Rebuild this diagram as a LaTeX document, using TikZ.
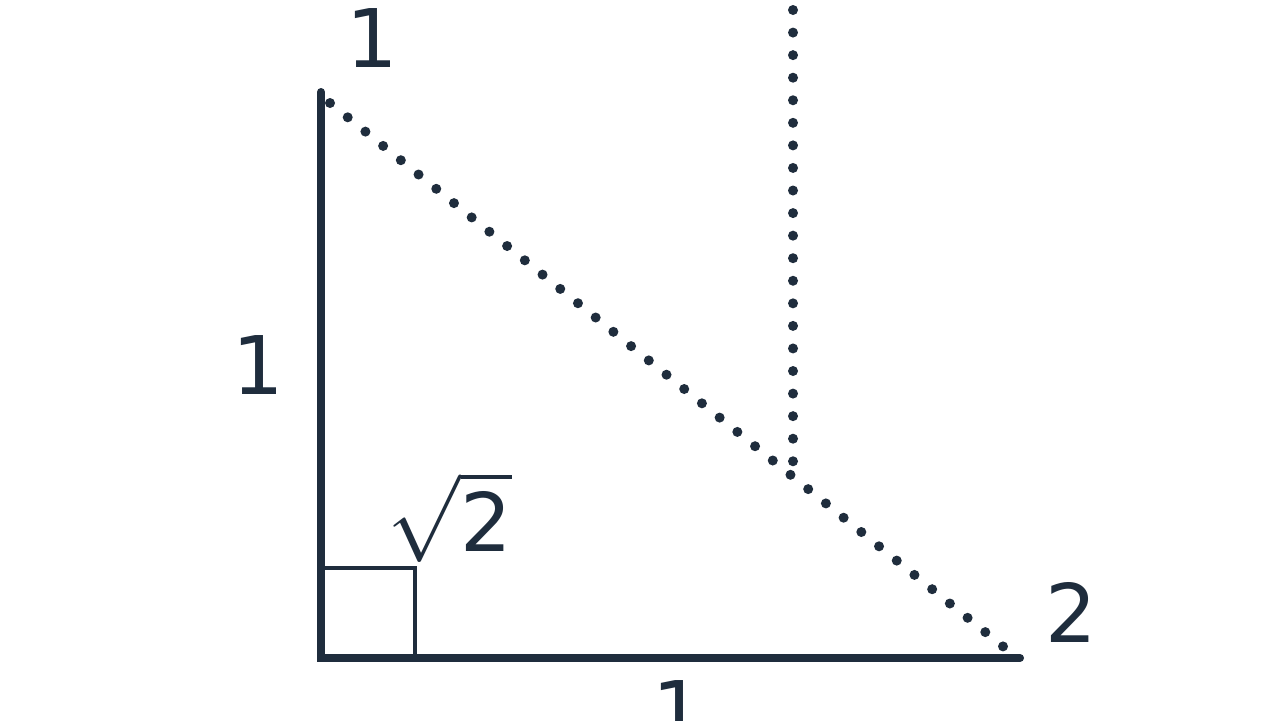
\documentclass[tikz,border=0pt]{standalone}
\usepackage{fontspec}
\setmainfont{DejaVu Sans}
\definecolor{ink}{HTML}{1F2D3D}
\begin{document}
\begin{tikzpicture}[x=0.01cm,y=-0.01cm,
  solidline/.style={draw=ink,line width=0.08cm,line cap=round},
  dotline/.style={draw=ink,line width=0.1cm,line cap=round,dash pattern=on 0pt off #1},
  lbl/.style={text=ink,font=\fontsize{23}{28}\selectfont,inner sep=0pt}]
\useasboundingbox[fill=white] (0,0) rectangle (1280,720);
\coordinate (T) at (321,92);
\coordinate (O) at (321,658);
\coordinate (R) at (1020,658);
\coordinate (H1) at (330,103);
\coordinate (H2) at (1005,648);
\coordinate (V1) at (793,10);
\coordinate (V2) at (793,462);
\draw[dotline=0.2275cm] (H1) -- (H2);
\draw[dotline=0.2255cm] (V1) -- (V2);
\draw[draw=ink,line width=0.04cm] (321,568) -- (415,568) -- (415,658);
\draw[solidline] (T) -- (O) -- (R);
\node[lbl] (ltop) at (372,38) {1};
\node[lbl] (lleft) at (258,365) {1};
\node[lbl] (lright) at (1071,612) {2};
\node[lbl] (lbot) at (678,710) {1};
\node[lbl] (lsqrt) at (450,517) {$\sqrt{\hbox{2}}$};
\end{tikzpicture}
\end{document}
